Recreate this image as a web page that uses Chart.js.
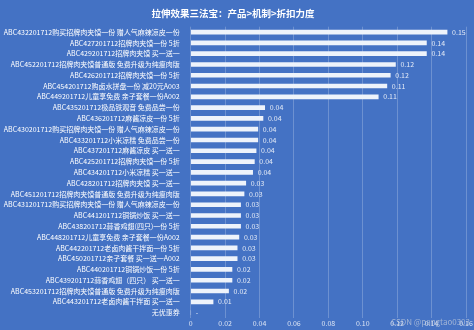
<!DOCTYPE html>
<html>
<head>
<meta charset="utf-8">
<script src="https://cdn.jsdelivr.net/npm/chart.js@4"></script>
<style>
  html, body { margin: 0; padding: 0; background: #4472c4; }
  #wrap { width: 474px; height: 330px; }
</style>
</head>
<body>
<div id="wrap"><canvas id="discount-chart"></canvas></div>
<script>
// 券码 + 活动内容
const categories = [
    'ABC432201712购买招牌肉夹馍一份 赠人气麻辣凉皮一份',
    'ABC427201712招牌肉夹馍一份 5折',
    'ABC429201712招牌肉夹馍 买一送一',
    'ABC452201712招牌肉夹馍普通版 免费升级为纯瘦肉版',
    'ABC426201712招牌肉夹馍一份 5折',
    'ABC454201712购卤水拼盘一份 减20元A003',
    'ABC449201712儿童享免费 亲子套餐一份A002',
    'ABC435201712极品铁观音 免费品尝一份',
    'ABC436201712麻酱凉皮一份 5折',
    'ABC430201712购买招牌肉夹馍一份 赠人气麻辣凉皮一份',
    'ABC433201712小米凉糕 免费品尝一份',
    'ABC437201712麻酱凉皮 买一送一',
    'ABC425201712招牌肉夹馍一份 5折',
    'ABC434201712小米凉糕 买一送一',
    'ABC428201712招牌肉夹馍 买一送一',
    'ABC451201712招牌肉夹馍普通版 免费升级为纯瘦肉版',
    'ABC431201712购买招牌肉夹馍一份 赠人气麻辣凉皮一份',
    'ABC441201712铜锅炒饭 买一送一',
    'ABC438201712蒜香鸡翅(四只)一份 5折',
    'ABC448201712儿童享免费 亲子套餐一份A002',
    'ABC442201712老卤肉酱干拌面一份 5折',
    'ABC450201712亲子套餐 买一送一A002',
    'ABC440201712铜锅炒饭一份 5折',
    'ABC439201712蒜香鸡翅（四只） 买一送一',
    'ABC453201712招牌肉夹馍普通版 免费升级为纯瘦肉版',
    'ABC443201712老卤肉酱干拌面 买一送一',
    '无优惠券'
];

// 拉伸效果（图上读数）
const liftValues = [
    0.149, 0.137, 0.137, 0.119, 0.116, 0.114, 0.109,
    0.043, 0.042, 0.039, 0.039, 0.038, 0.037, 0.036,
    0.032, 0.031, 0.029, 0.029, 0.029, 0.028, 0.027,
    0.027, 0.024, 0.024, 0.022, 0.013, 0
];

// x轴刻度
const xTicks = [0, 0.02, 0.04, 0.06, 0.08, 0.10, 0.12, 0.14, 0.16];

const FONT = "'Noto Sans CJK SC', 'Noto Sans', sans-serif";

// 背景色
const bgPlugin = {
    id: 'bg',
    beforeDraw(chart) {
        const ctx = chart.ctx;
        ctx.save();
        ctx.fillStyle = '#4472c4';
        ctx.fillRect(0, 0, chart.width, chart.height);
        ctx.restore();
    }
};

// 柱子末端的数值
const valueLabelPlugin = {
    id: 'valueLabels',
    afterDatasetsDraw(chart) {
        const ctx = chart.ctx;
        const meta = chart.getDatasetMeta(0);
        ctx.save();
        ctx.font = '7px ' + FONT;
        ctx.fillStyle = 'rgba(255,255,255,0.85)';
        ctx.textBaseline = 'middle';
        ctx.textAlign = 'left';
        meta.data.forEach((bar, i) => {
            const v = liftValues[i];
            const text = v === 0 ? '-' : v.toFixed(2);
            ctx.fillText(text, bar.x + 5, bar.y);
        });
        ctx.restore();
    }
};

// 水印
const watermarkPlugin = {
    id: 'watermark',
    afterDraw(chart) {
        const ctx = chart.ctx;
        ctx.save();
        ctx.font = '8px ' + FONT;
        ctx.fillStyle = 'rgba(200,208,222,0.7)';
        ctx.textAlign = 'right';
        ctx.textBaseline = 'middle';
        ctx.fillText('CSDN @pangtao0303', 470, 322);
        ctx.restore();
    }
};

const ctx = document.getElementById('discount-chart').getContext('2d');
const chart = new Chart(ctx, {
    type: 'bar',
    data: {
        labels: categories,
        datasets: [{
            label: '拉伸效果',
            data: liftValues,
            backgroundColor: '#eef3fb',
            barThickness: 4
        }]
    },
    options: {
        indexAxis: 'y',
        responsive: true,
        maintainAspectRatio: false,
        animation: false,
        layout: { padding: { left: 0, right: 8, top: 0, bottom: 0 } },
        scales: {
            x: {
                min: 0,
                max: 0.16,
                afterBuildTicks(scale) {
                    scale.ticks = xTicks.map(v => ({ value: v }));
                },
                afterFit(scale) { scale.height = 12; },
                grid: {
                    color: 'rgba(255,255,255,0.22)',
                    drawTicks: false
                },
                border: { display: false },
                ticks: {
                    padding: 1,
                    color: 'rgba(255,255,255,0.8)',
                    font: { family: FONT, size: 7 },
                    callback: function(value) {
                        return value === 0 ? '0' : value.toFixed(2);
                    }
                }
            },
            y: {
                afterFit(scale) { scale.width = 190.7; },
                grid: { display: false },
                border: { display: false },
                ticks: {
                    padding: 3,
                    autoSkip: false,
                    color: '#ffffff',
                    font: { family: FONT, size: 7 }
                }
            }
        },
        plugins: {
            legend: { display: false },
            tooltip: { enabled: false },
            title: {
                display: true,
                text: '拉伸效果三法宝：产品>机制>折扣力度',
                color: '#ffffff',
                font: { family: FONT, size: 9.5, weight: 'bold' },
                padding: { top: 7.5, bottom: 7.8 }
            }
        }
    },
    plugins: [bgPlugin, valueLabelPlugin, watermarkPlugin]
});
</script>
</body>
</html>
